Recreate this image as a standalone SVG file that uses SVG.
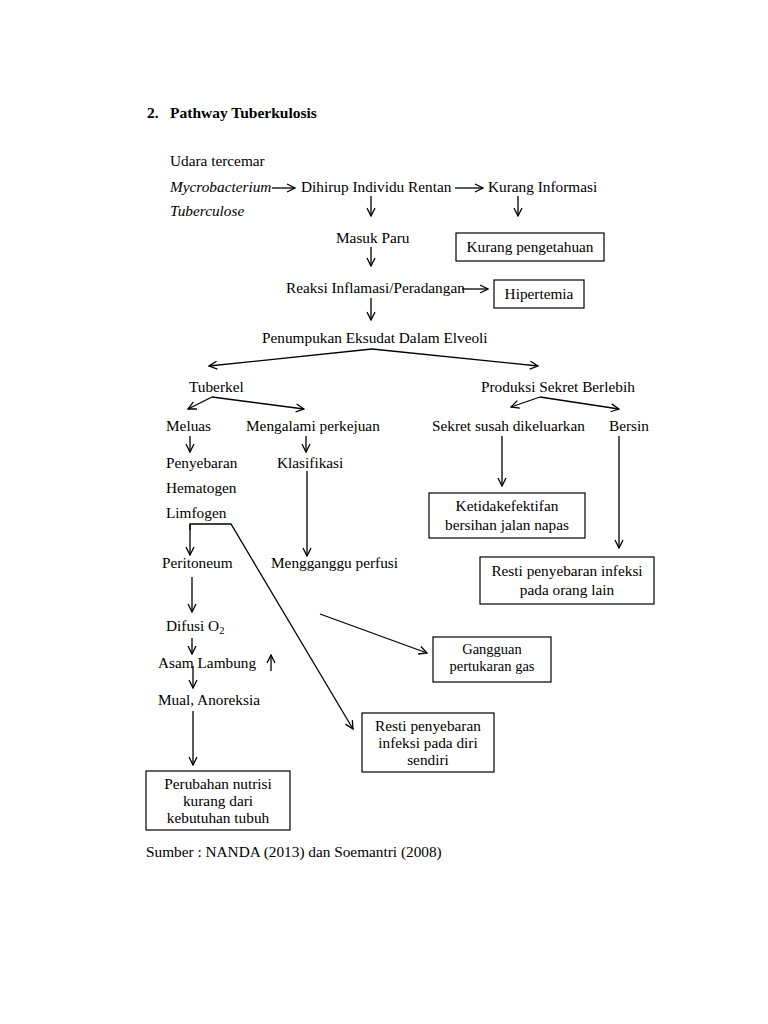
<svg xmlns="http://www.w3.org/2000/svg" width="768" height="1024" viewBox="0 0 768 1024">
<defs>
<marker id="ah" viewBox="0 0 10 10" refX="9" refY="5" markerWidth="10" markerHeight="10" markerUnits="userSpaceOnUse" orient="auto">
<path d="M1,1 L9,5 L1,9" fill="none" stroke="#000" stroke-width="1.3"/>
</marker>
</defs>
<style>
text{font-family:"Liberation Serif","Times New Roman",serif;font-size:15.3px;fill:#000}
.b{font-weight:bold;font-size:15.5px}
.i{font-style:italic}
.c{text-anchor:middle}
.s{font-size:14.5px}
rect{fill:#fff;stroke:#000;stroke-width:1.2}
line,path.l{stroke:#000;stroke-width:1.3;fill:none}
.a{marker-end:url(#ah)}
</style>
<rect x="0" y="0" width="768" height="1024" style="stroke:none"/>
<g id="title"><text x="147" y="118" class="b">2.</text><text x="170" y="118" class="b">Pathway Tuberkulosis</text></g>
<g id="udara"><text x="170" y="166">Udara tercemar</text></g>
<g id="mycro"><text x="170" y="192" class="i">Mycrobacterium</text><text x="170" y="216" class="i">Tuberculose</text></g>
<g id="dihirup"><text x="301" y="192">Dihirup Individu Rentan</text></g>
<g id="kurang-info"><text x="488" y="192">Kurang Informasi</text></g>
<g id="masuk"><text x="336" y="243">Masuk Paru</text></g>
<g id="kurang-peng"><rect x="456" y="233" width="148" height="28"/><text x="530" y="252" class="c">Kurang pengetahuan</text></g>
<g id="reaksi"><text x="286" y="293">Reaksi Inflamasi/Peradangan</text></g>
<g id="hipertemia"><rect x="494" y="280" width="90" height="28"/><text x="539" y="299" class="c">Hipertemia</text></g>
<g id="penumpukan"><text x="262" y="343">Penumpukan Eksudat Dalam Elveoli</text></g>
<g id="tuberkel"><text x="189" y="392">Tuberkel</text></g>
<g id="produksi"><text x="481" y="392">Produksi Sekret Berlebih</text></g>
<g id="meluas"><text x="166" y="431">Meluas</text></g>
<g id="perkejuan"><text x="246" y="431">Mengalami perkejuan</text></g>
<g id="sekret"><text x="432" y="431">Sekret susah dikeluarkan</text></g>
<g id="bersin"><text x="609" y="431">Bersin</text></g>
<g id="penyebaran"><text x="166" y="468">Penyebaran</text><text x="166" y="493">Hematogen</text><text x="166" y="518">Limfogen</text></g>
<g id="klasifikasi"><text x="277" y="468">Klasifikasi</text></g>
<g id="ketidak"><rect x="429" y="493" width="156" height="45"/><text x="507" y="511" class="c">Ketidakefektifan</text><text x="507" y="530" class="c">bersihan jalan napas</text></g>
<g id="peritoneum"><text x="162" y="568">Peritoneum</text></g>
<g id="mengganggu"><text x="271" y="568">Mengganggu perfusi</text></g>
<g id="resti-lain"><rect x="480" y="557" width="174" height="47"/><text x="567" y="576" class="c">Resti penyebaran infeksi</text><text x="567" y="595" class="c">pada orang lain</text></g>
<g id="difusi"><text x="166" y="631">Difusi O<tspan font-size="10.5" dy="3">2</tspan></text></g>
<g id="asam"><text x="158" y="668">Asam Lambung</text></g>
<g id="mual"><text x="158" y="705">Mual, Anoreksia</text></g>
<g id="gangguan"><rect x="433" y="637" width="118" height="45"/><text x="492" y="654" class="c s">Gangguan</text><text x="492" y="671" class="c s">pertukaran gas</text></g>
<g id="resti-diri"><rect x="362" y="713" width="132" height="59"/><text x="428" y="731" class="c">Resti penyebaran</text><text x="428" y="748" class="c">infeksi pada diri</text><text x="428" y="765" class="c">sendiri</text></g>
<g id="perubahan"><rect x="146" y="771" width="144" height="59"/><text x="218" y="789" class="c">Perubahan nutrisi</text><text x="218" y="806" class="c">kurang dari</text><text x="218" y="823" class="c">kebutuhan tubuh</text></g>
<g id="sumber"><text x="146" y="857">Sumber : NANDA (2013) dan Soemantri (2008)</text></g>
<g id="connectors">
<line x1="272" y1="188" x2="295" y2="188" class="a"/>
<line x1="455" y1="188" x2="483" y2="188" class="a"/>
<line x1="371" y1="196" x2="371" y2="216" class="a"/>
<line x1="518" y1="196" x2="518" y2="216" class="a"/>
<line x1="371" y1="247" x2="371" y2="266" class="a"/>
<line x1="462" y1="289" x2="488" y2="289" class="a"/>
<line x1="371" y1="298" x2="371" y2="320" class="a"/>
<line x1="372" y1="349" x2="209" y2="366" class="a"/>
<line x1="372" y1="349" x2="538" y2="366" class="a"/>
<line x1="212" y1="397" x2="188" y2="409" class="a"/>
<line x1="212" y1="397" x2="304" y2="409" class="a"/>
<line x1="540" y1="397" x2="511" y2="407" class="a"/>
<line x1="540" y1="397" x2="619" y2="409" class="a"/>
<line x1="190" y1="436" x2="190" y2="452" class="a"/>
<line x1="306" y1="436" x2="306" y2="452" class="a"/>
<line x1="502" y1="436" x2="502" y2="486" class="a"/>
<line x1="619" y1="436" x2="619" y2="548" class="a"/>
<line x1="307" y1="471" x2="307" y2="556" class="a"/>
<path class="l" d="M190,530 L190,524 L231,524 L353,729" style="marker-end:url(#ah)"/>
<line x1="190" y1="524" x2="190" y2="555" class="a"/>
<line x1="192" y1="577" x2="192" y2="612" class="a"/>
<line x1="192" y1="638" x2="192" y2="654" class="a"/>
<line x1="271" y1="671" x2="271" y2="655" class="a"/>
<line x1="193" y1="666" x2="193" y2="688" class="a"/>
<line x1="193" y1="711" x2="193" y2="765" class="a"/>
<line x1="320" y1="614" x2="427" y2="653" class="a"/>
</g>
</svg>
